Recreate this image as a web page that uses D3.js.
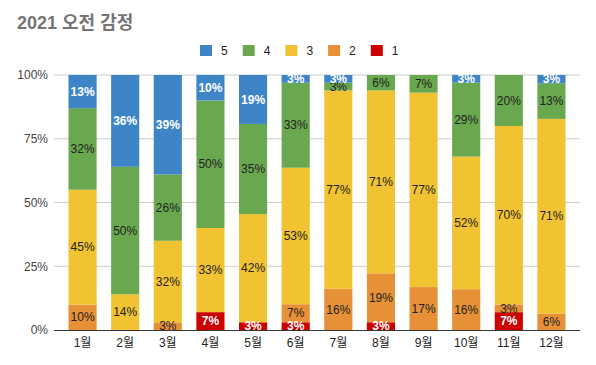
<!DOCTYPE html>
<html>
<head>
<meta charset="utf-8">
<script src="https://cdn.jsdelivr.net/npm/d3@7"></script>
<style>
  body { margin: 0; background: #fff; }
  text { font-family: Arial, "Liberation Sans", "Noto Sans CJK KR", sans-serif; }
</style>
</head>
<body>
<div id="graph"></div>
<script>
var months = ['1월','2월','3월','4월','5월','6월','7월','8월','9월','10월','11월','12월']
var keys = ['1','2','3','4','5']
var s1 = [0, 0, 0, 7, 3, 3, 0, 3, 0, 0, 7, 0]
var s2 = [10, 0, 3, 0, 0, 7, 16, 19, 17, 16, 3, 6]
var s3 = [45, 14, 32, 33, 42, 53, 77, 71, 77, 52, 70, 71]
var s4 = [32, 50, 26, 50, 35, 33, 3, 6, 7, 29, 20, 13]
var s5 = [13, 36, 39, 10, 19, 3, 3, 0, 0, 3, 0, 3]
var yTicks = [0, 0.25, 0.5, 0.75, 1]

var colors = {'1': '#cc0000', '2': '#e69138', '3': '#f1c232', '4': '#6aa84f', '5': '#3d85c6'}
var series = {'1': s1, '2': s2, '3': s3, '4': s4, '5': s5}

var width = 596, height = 365
var margin = {top: 75, right: 16, bottom: 35, left: 54}
var font = 'Arial, "Liberation Sans", "Noto Sans CJK KR", sans-serif'

var rows = months.map((m, i) => {
  var r = {month: m}
  keys.forEach(k => r[k] = series[k][i])
  return r
})

var stacked = d3.stack().keys(keys).offset(d3.stackOffsetExpand)(rows)

var svg = d3.select('#graph').append('svg')
  .attr('width', width).attr('height', height)

var x = d3.scaleBand().domain(months)
  .range([margin.left, width - margin.right]).padding(0.34)
var y = d3.scaleLinear().domain([0, 1]).range([height - margin.bottom, margin.top])

// title
svg.append('text').attr('x', 17).attr('y', 29)
  .attr('font-size', 18).attr('font-weight', 'bold').attr('fill', '#757575')
  .text('2021 오전 감정')

// gridlines
svg.append('g').selectAll('line').data(yTicks.slice(1)).join('line')
  .attr('x1', margin.left).attr('x2', width - margin.right)
  .attr('y1', d => y(d)).attr('y2', d => y(d))
  .attr('stroke', '#cccccc')

// y axis labels
var yAxis = svg.append('g').attr('transform', `translate(${margin.left},0)`)
  .call(d3.axisLeft(y).tickValues(yTicks).tickFormat(d3.format('.0%')).tickSize(0).tickPadding(6))
yAxis.select('.domain').remove()
yAxis.selectAll('text').attr('font-size', 12).attr('fill', '#444')
  .style('font-family', font)

// bars
var layer = svg.append('g').selectAll('g').data(stacked).join('g')
  .attr('fill', d => colors[d.key])
layer.selectAll('rect').data(d => d).join('rect')
  .attr('x', d => x(d.data.month))
  .attr('width', x.bandwidth())
  .attr('y', d => y(d[1]))
  .attr('height', d => y(d[0]) - y(d[1]))

// labels
var labels = svg.append('g')
stacked.forEach(s => {
  var light = s.key == '5' || s.key == '1'
  labels.selectAll(null).data(s.filter(d => d.data[s.key] > 0)).join('text')
    .attr('x', d => x(d.data.month) + x.bandwidth() / 2)
    .attr('y', d => (y(d[0]) + y(d[1])) / 2)
    .attr('dy', '0.35em')
    .attr('text-anchor', 'middle')
    .attr('font-size', 12)
    .attr('font-weight', light ? 'bold' : 'normal')
    .attr('fill', light ? '#fff' : '#222')
    .text(d => d.data[s.key] + '%')
})

// x axis
var xAxis = svg.append('g').attr('transform', `translate(0,${height - margin.bottom})`)
  .call(d3.axisBottom(x).tickSize(0).tickPadding(8))
xAxis.select('.domain').attr('d', `M${margin.left},0.5H${width - margin.right}`)
  .attr('stroke', '#333')
xAxis.selectAll('text').attr('font-size', 12).attr('fill', '#222')
  .style('font-family', font)

// legend
var legend = svg.append('g').selectAll('g').data(keys.slice().reverse()).join('g')
  .attr('transform', (d, i) => `translate(${200 + i * 42.7},45)`)
legend.append('rect').attr('width', 12).attr('height', 11).attr('fill', d => colors[d])
legend.append('text').attr('x', 21).attr('y', 6).attr('dy', '0.35em')
  .attr('font-size', 12).attr('fill', '#222').text(d => d)
</script>
</body>
</html>
